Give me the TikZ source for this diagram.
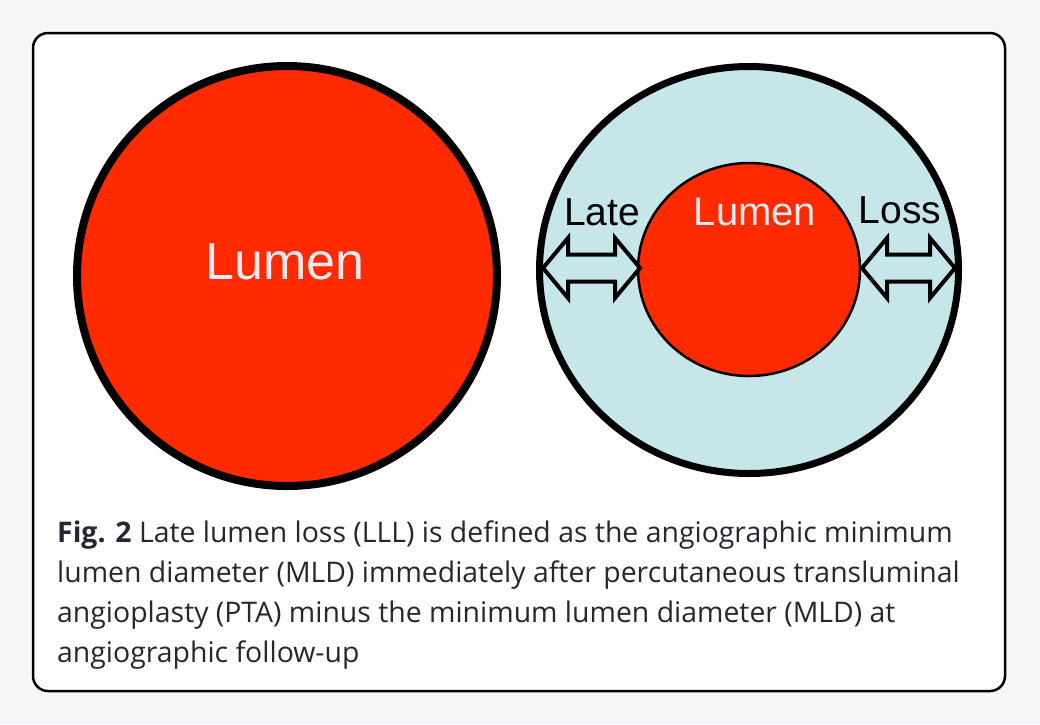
\documentclass[tikz,border=0pt]{standalone}
\usepackage{fontspec}
\setmainfont{Open Sans}
\newfontfamily\labelfont{Liberation Sans}
\definecolor{lumenred}{HTML}{FF2A00}
\definecolor{wallblue}{HTML}{C6E6E9}
\definecolor{pagegrey}{HTML}{F5F6F7}
\definecolor{captext}{HTML}{2A2530}
\definecolor{lumentext}{HTML}{EEEAF0}

% hollow double-headed arrow: left tip x, right tip x, centre y
\newcommand{\gaparrow}[3]{%
  \draw[gapline] (#1,#3) -- ({#1+25},{#3-30}) -- ({#1+25},{#3-13.5})
    -- ({#2-25},{#3-13.5}) -- ({#2-25},{#3-30}) -- (#2,#3)
    -- ({#2-25},{#3+30}) -- ({#2-25},{#3+13.5}) -- ({#1+25},{#3+13.5})
    -- ({#1+25},{#3+30}) -- cycle;}

\begin{document}
\begin{tikzpicture}[x=1pt,y=-1pt,
  frame/.style={draw=black,line width=2.5pt,rounded corners=15pt,fill=white},
  redlumen/.style={fill=lumenred,draw=black},
  gapline/.style={draw=black,line width=4pt,line join=miter},
  inlabel/.style={text=lumentext,inner sep=0pt,anchor=base},
  gaplabel/.style={text=black,inner sep=0pt,anchor=base,font=\labelfont\fontsize{39}{39}\selectfont},
  caption/.style={text=captext,inner sep=0pt,align=left,anchor=base west,font=\fontsize{28.4}{40}\selectfont}]
\useasboundingbox[fill=pagegrey] (0,0) rectangle (1040,724);
\draw[frame] (33,33) rectangle (1005,691);

% before: full lumen
\draw[redlumen,line width=8pt] (287,276) circle[radius=210pt];
\node[inlabel,font=\labelfont\fontsize{52}{52}\selectfont] (bigl) at (285,279) {Lumen};

% after: vessel wall with narrowed lumen
\draw[fill=wallblue,draw=black,line width=7pt] (749,270) ellipse[x radius=209.5pt,y radius=203.5pt];
\draw[redlumen,line width=2.5pt] (749,269.5) ellipse[x radius=111pt,y radius=106.5pt];
\node[inlabel,font=\labelfont\fontsize{40}{40}\selectfont] (smalll) at (755,225) {Lumen};
\node[gaplabel] (late) at (602,225) {Late};
\node[gaplabel] (loss) at (900,223) {Loss};
\gaparrow{543}{640}{268}
\gaparrow{862}{955}{268}

% caption (base anchor sits on the last line)
\node[caption] (cap) at (57,662) {\textbf{Fig. 2} Late lumen loss (LLL) is defined as the angiographic minimum\\
lumen diameter (MLD) immediately after percutaneous transluminal\\
angioplasty (PTA) minus the minimum lumen diameter (MLD) at\\
angiographic follow-up};
\end{tikzpicture}
\end{document}
